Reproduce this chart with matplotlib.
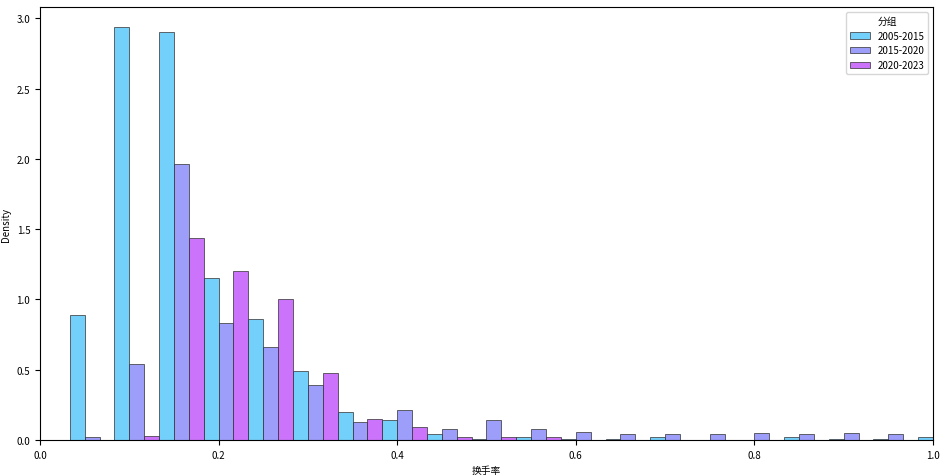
import matplotlib
matplotlib.use("Agg")
import matplotlib.pyplot as plt
import numpy as np

plt.rcParams['font.family'] = ['Noto Sans CJK SC', 'DejaVu Sans']

groups = ['2005-2015', '2015-2020', '2020-2023']
bin_starts = [0.0333 + 0.05 * i for i in range(20)]
d1 = [0.89, 2.94, 2.90, 1.15, 0.86, 0.49, 0.20, 0.14, 0.04, 0.01, 0.02, 0.01, 0.01, 0.02, 0.0, 0.0, 0.02, 0.01, 0.01, 0.02]
d2 = [0.02, 0.54, 1.96, 0.83, 0.66, 0.39, 0.13, 0.21, 0.08, 0.14, 0.08, 0.06, 0.04, 0.04, 0.04, 0.05, 0.04, 0.05, 0.04, 0.04]
d3 = [0.0, 0.03, 1.44, 1.20, 1.00, 0.48, 0.15, 0.09, 0.02, 0.02, 0.02, 0.0, 0.0, 0.0, 0.0, 0.0, 0.0, 0.0, 0.0, 0.0]
colors = ['#5bc8fb', '#8c8cfa', '#c25cfb']

fig = plt.figure(figsize=(9.49, 4.77), dpi=100)
ax = fig.add_axes([40/949, 36/477, 893/949, 433/477])
w = 0.05 / 3
for k, (d, c, g) in enumerate(zip([d1, d2, d3], colors, groups)):
    x = np.array(bin_starts) + k * w
    ax.bar(x, d, width=w, align='edge', color=c, edgecolor='#333333', linewidth=0.6, alpha=0.85, label=g)
ax.set_xlim(0, 1)
ax.set_ylim(0, 3.08)
ax.set_xlabel('换手率', fontsize=7)
ax.set_ylabel('Density', fontsize=7)
ax.tick_params(labelsize=7)
ax.legend(title='分组', fontsize=7, title_fontsize=7, loc='upper right')
fig.savefig('out.png', dpi=100)
